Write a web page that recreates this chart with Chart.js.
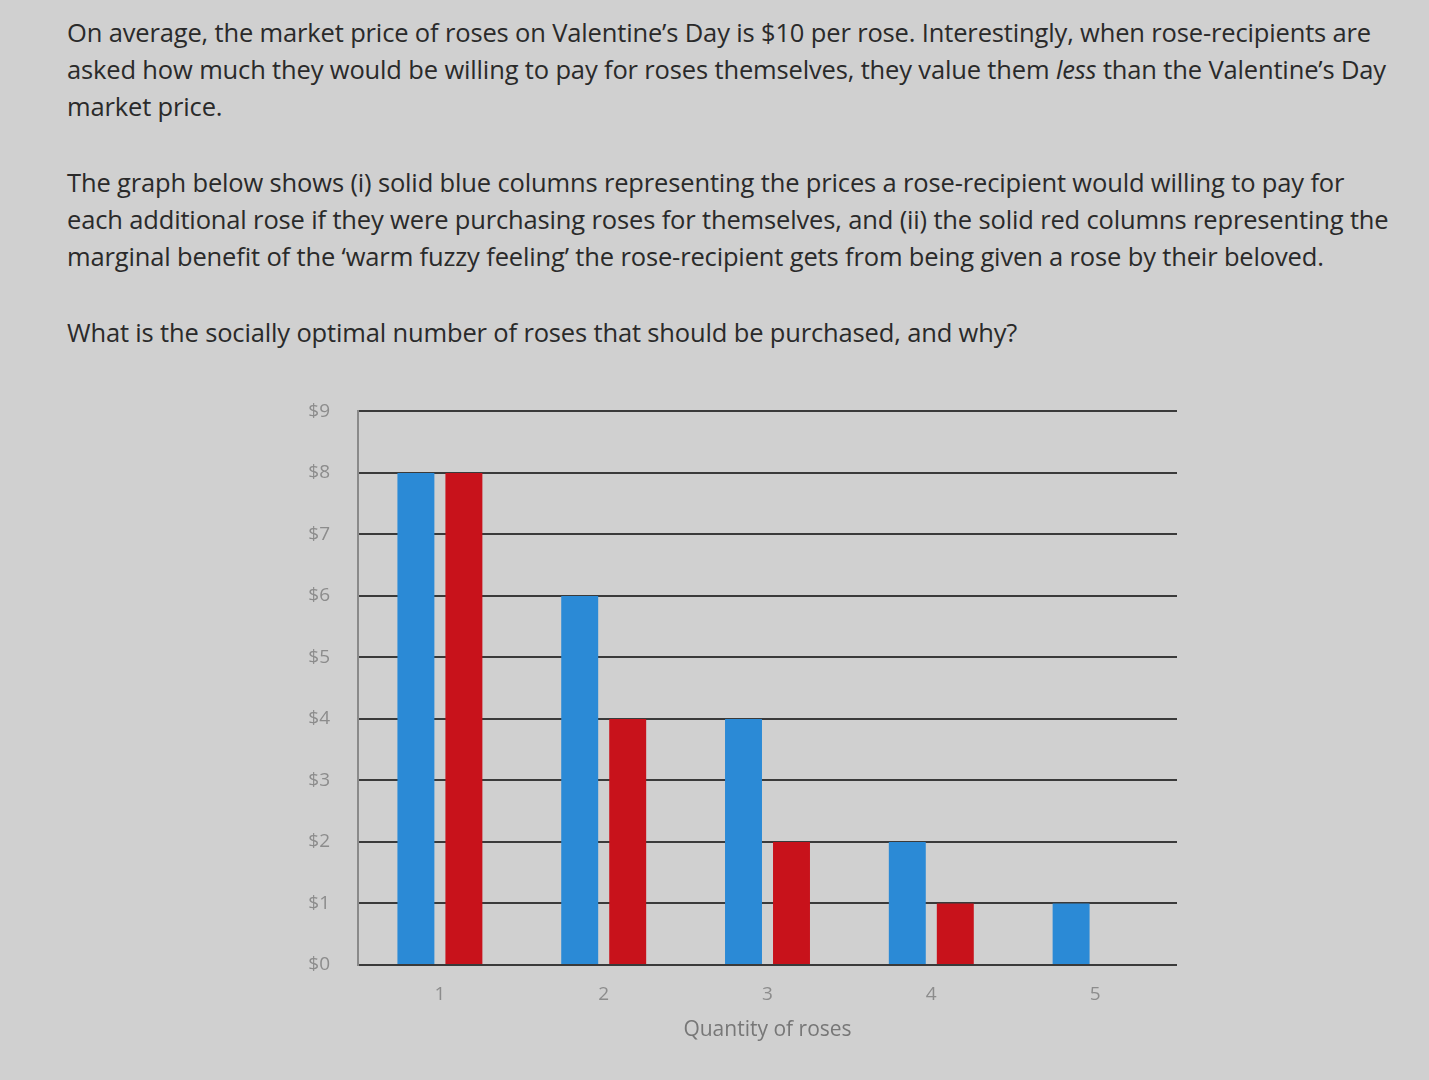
<!DOCTYPE html>
<html><head><meta charset="utf-8">
<script src="https://cdn.jsdelivr.net/npm/chart.js@4.4.1/dist/chart.umd.min.js"></script>
<style>
html,body{margin:0;padding:0;width:1429px;height:1080px;overflow:hidden;background:#d0d0d0;font-family:"Open Sans",sans-serif;color:#2a2a2a;}
.t{position:absolute;left:67px;font-size:25.5px;line-height:37px;white-space:nowrap;letter-spacing:-0.15px;}
#wrap{position:absolute;left:283px;top:372px;width:930px;height:671px;}
</style></head><body>
<div class="t" style="top:14px">On average, the market price of roses on Valentine’s Day is $10 per rose. Interestingly, when rose-recipients are<br>asked how much they would be willing to pay for roses themselves, they value them <i>less</i> than the Valentine’s Day<br>market price.</div>
<div class="t" style="top:164px">The graph below shows (i) solid blue columns representing the prices a rose-recipient would willing to pay for<br>each additional rose if they were purchasing roses for themselves, and (ii) the solid red columns representing the<br>marginal benefit of the ‘warm fuzzy feeling’ the rose-recipient gets from being given a rose by their beloved.</div>
<div class="t" style="top:314px">What is the socially optimal number of roses that should be purchased, and why?</div>
<div id="wrap"><canvas id="c"></canvas></div>
<script>
const quantities = ['1','2','3','4','5'];
const selfPrice = [8, 6, 4, 2, 1];
const warmFuzzy = [8, 4, 2, 1, 0];
const yTicks = [0,1,2,3,4,5,6,7,8,9];
new Chart(document.getElementById('c'), {
  type: 'bar',
  data: {
    labels: quantities,
    datasets: [
      {label:'Willingness to pay', data: selfPrice, backgroundColor:'#2b8ad6', categoryPercentage:0.586, barPercentage:0.77},
      {label:'Warm fuzzy feeling', data: warmFuzzy, backgroundColor:'#c8121b', categoryPercentage:0.586, barPercentage:0.77}
    ]
  },
  options: {
    responsive:true, maintainAspectRatio:false, animation:false,
    layout:{padding:{left:0,right:36,top:2,bottom:0}},
    plugins:{legend:{display:false}, tooltip:{enabled:false}},
    scales:{
      x:{
        grid:{display:false, drawTicks:false},
        border:{display:false},
        ticks:{color:'#8c8c8c', font:{size:19, family:'Open Sans'}, padding:18},
        title:{display:true, text:'Quantity of roses', color:'#777777', font:{size:21, family:'Open Sans'}, padding:{top:-6, bottom:0}}
      },
      y:{
        min:0, max:9,
        afterBuildTicks: (ax)=>{ ax.ticks = yTicks.map(v=>({value:v})); },
        afterFit: (ax)=>{ ax.width = 75; },
        grid:{color:'#3a3a3a', lineWidth:2, drawTicks:false},
        border:{display:true, color:'#8a8a8a', width:2},
        ticks:{color:'#8c8c8c', font:{size:19, family:'Open Sans'}, padding:28, callback:(v)=>'$'+v}
      }
    }
  }
});
</script>
</body></html>
